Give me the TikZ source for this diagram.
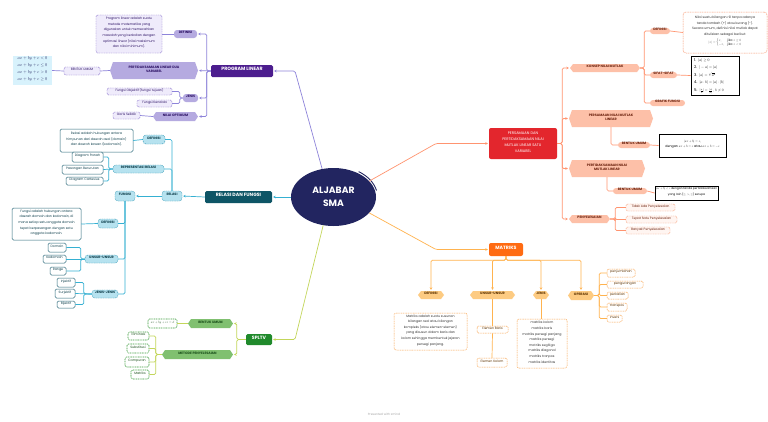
\documentclass[tikz,border=0pt]{standalone}
\usepackage{amsmath}
\usepackage{graphicx}
\usepackage[no-math]{fontspec}
\setmainfont{Poppins}
\usetikzlibrary{arrows.meta,fit,shapes.geometric}
\definecolor{navy}{HTML}{222560}
\definecolor{plDark}{HTML}{4C1D8E}
\definecolor{plLine}{HTML}{8E84DA}
\definecolor{plMid}{HTML}{B5AAE0}
\definecolor{plLight}{HTML}{EFEBFB}
\definecolor{plBorder}{HTML}{7D63C6}
\definecolor{plText}{HTML}{2E1466}
\definecolor{rfDark}{HTML}{0E5566}
\definecolor{rfLine}{HTML}{35B0D2}
\definecolor{rfMid}{HTML}{B6E2EF}
\definecolor{rfBorder}{HTML}{2C95B3}
\definecolor{rfBox}{HTML}{2D6B7C}
\definecolor{rfText}{HTML}{0E3F4C}
\definecolor{spDark}{HTML}{208A2C}
\definecolor{spLine}{HTML}{C3D65A}
\definecolor{spMid}{HTML}{80C070}
\definecolor{spBorder}{HTML}{3E9C3E}
\definecolor{spText}{HTML}{1A4F1A}
\definecolor{nmRed}{HTML}{E3262D}
\definecolor{nmLine}{HTML}{FF9470}
\definecolor{nmMid}{HTML}{FDC0A8}
\definecolor{nmBorder}{HTML}{F7976F}
\definecolor{nmLight}{HTML}{FFF5F1}
\definecolor{nmText}{HTML}{6E2410}
\definecolor{mxDark}{HTML}{FF6B12}
\definecolor{mxLine}{HTML}{FFB34F}
\definecolor{mxMid}{HTML}{FDCB82}
\definecolor{mxBorder}{HTML}{F9A24C}
\definecolor{mxText}{HTML}{5E3300}
\definecolor{eqFill}{HTML}{D8F2FC}
\newcommand\fT{\fontsize{3.2}{5.6}\selectfont}
\newcommand\fTs{\fontsize{2.9}{5.4}\selectfont}
\newcommand\fL{\fontsize{3.3}{4.4}\selectfont\bfseries}
\newcommand\fH{\fontsize{3.7}{6.2}\selectfont}
\newcommand\fM{\fontsize{4.7}{6}\selectfont\bfseries}
\newcommand\fC{\fontsize{9.2}{13}\selectfont\bfseries}
\newcommand\fE{\fontsize{4.4}{7.2}\selectfont}
\newcommand\fS{\fontsize{3.9}{5}\selectfont}
\newcommand\mth[2]{\scalebox{#1}{\fontsize{10}{12}\selectfont$#2$}}
\newcommand\bx[7]{\node[#2, fit={(#3,#4)(#5,#6)}, inner sep=0pt] (#1) {#7};}
\newcommand\hexn[8]{\path[#2] (#4+3,#5) -- (#6-3,#5) -- (#6,#5/2+#7/2) -- (#6-3,#7) -- (#4+3,#7) -- (#4,#5/2+#7/2) -- cycle;
  \node[#3, fit={(#4,#5)(#6,#7)}, inner sep=0pt] (#1) {#8};}
\tikzset{
  arr/.style={-{Stealth[length=2.4pt,width=2.6pt]}, shorten >=1pt},
  dsh/.style={dash pattern=on 1pt off 0.7pt},
  plline/.style={draw=plLine, line width=0.7pt, rounded corners=1.5pt},
  plmain/.style={fill=plDark, rounded corners=1.5pt, text=white, font=\fM},
  pllab/.style={fill=plMid, rounded corners=3pt, text=plText, font=\fL},
  plhex/.style={fill=plMid},
  plhext/.style={text=plText, font=\fL, align=center},
  plsmall/.style={fill=plLight, draw=plBorder, dsh, line width=0.4pt, rounded corners=1.5pt, text=plText, font=\fT},
  rfline/.style={draw=rfLine, line width=0.7pt, rounded corners=1.5pt},
  rfmain/.style={fill=rfDark, rounded corners=1.5pt, text=white, font=\fM},
  rflab/.style={fill=rfMid, draw=rfBorder, dsh, line width=0.4pt, rounded corners=3pt, text=rfText, font=\fL},
  rfsmall/.style={fill=white, draw=rfBox, line width=0.5pt, rounded corners=1.5pt, text=rfText, font=\fT},
  spline/.style={draw=spLine, line width=0.7pt, rounded corners=1.5pt},
  spmain/.style={fill=spDark, rounded corners=1.5pt, text=white, font=\fM},
  sphex/.style={fill=spMid},
  sphext/.style={text=spText, font=\fL, align=center},
  spsmall/.style={fill=white, draw=spBorder, dsh, line width=0.6pt, rounded corners=1.5pt, text=spText, font=\fT},
  nmline/.style={draw=nmLine, line width=0.7pt, rounded corners=1.5pt},
  nmmain/.style={fill=nmRed, rounded corners=2pt, text=white, font=\fH},
  nmhex/.style={fill=nmMid},
  nmhext/.style={text=nmText, font=\fL, align=center},
  nmlab/.style={fill=nmMid, rounded corners=3pt, text=nmText, font=\fL},
  nmsmall/.style={fill=nmLight, draw=nmBorder, dsh, line width=0.4pt, rounded corners=1.5pt, text=nmText, font=\fT},
  nmbox/.style={fill=white, draw=nmBorder, dsh, line width=0.5pt, rounded corners=3pt, text=black!80, font=\fT},
  blkbox/.style={fill=white, draw=black, line width=0.8pt, text=black, font=\fT},
  sifline/.style={anchor=west, inner sep=0pt, font=\fS, text=black},
  mxline/.style={draw=mxLine, line width=0.7pt, rounded corners=1.5pt},
  mxmain/.style={fill=mxDark, rounded corners=2pt, text=white, font=\fM},
  mxhex/.style={fill=mxMid},
  mxhext/.style={text=mxText, font=\fL, align=center},
  mxbox/.style={fill=white, draw=mxBorder, dsh, line width=0.5pt, rounded corners=2pt, text=black!80, font=\fT},
  mxsmall/.style={fill=white, draw=mxBorder, dsh, line width=0.5pt, rounded corners=1.5pt, text=mxText, font=\fT},
}
\begin{document}
\begin{tikzpicture}[x=1pt,y=-1pt]
\fill[white] (0,0) rectangle (768,421);
\useasboundingbox (0,0) rectangle (768,421);

% ---------- centre ----------
\node[ellipse, fill=navy, minimum width=85pt, minimum height=58pt, inner sep=0pt, text=white, font=\fC, align=center] (C) at (333.5,197) {ALJABAR\\SMA};
\draw[navy, line width=0.9pt] (358.7,171.6) arc[start angle=-55, end angle=-12, x radius=44, y radius=31];

% ---------- PROGRAM LINEAR ----------
\bx{PL}{plmain}{211}{65}{273}{77}{PROGRAM LINEAR}
\bx{plDefBox}{plsmall, align=right}{96}{15}{162}{53}{Program linear adalah suatu\\metode matematika yang\\digunakan untuk memecahkan\\masalah yang berkaitan dengan\\optimasi linear (nilai maksimum\\dan nilai minimum).}
\bx{plDef}{pllab}{174}{30}{197}{38}{DEFINISI}
\hexn{plPtd}{plhex}{plhext}{110}{62}{198}{79}{PERTIDAKSAMAAN LINEAR DUA\\VARIABEL}
\bx{plBU}{plsmall}{64}{67}{100}{75}{BENTUK UMUM}
\bx{plEq}{fill=eqFill, text=navy, font=\fE, align=left}{13}{56}{52}{85}{\mth{0.44}{ax+by+c<0}\\\mth{0.44}{ax+by+c\le0}\\\mth{0.44}{ax+by+c>0}\\\mth{0.44}{ax+by+c\ge0}}
\bx{plJenis}{pllab}{183}{94}{198}{102}{JENIS}
\bx{plFO}{plsmall}{107}{88}{172}{95}{Fungsi Objektif (fungsi tujuan)}
\bx{plFK}{plsmall}{137}{100}{172}{107}{Fungsi Kendala}
\hexn{plNO}{plhex}{plhext}{153}{112}{198}{121}{NILAI OPTIMUM}
\bx{plGS}{plsmall}{113}{112}{140}{119}{Garis Selidik}

\draw[plline, arr] (C.112) -- (295,71) -- (PL.east);
\draw[plline, arr] (PL.west) -- ++(-4,0) |- (plDef.east);
\draw[plline, arr] (PL.west) -- (plPtd.east);
\draw[plline, arr] (PL.west) -- ++(-4,0) |- (plJenis.east);
\draw[plline, arr] (PL.west) -- ++(-4,0) |- (plNO.east);
\draw[plline] (plDef.west) -- (plDefBox.east);
\draw[plline] (plPtd.west) -- (plBU.east);
\draw[plline] (plBU.west) -- (plEq.east);
\draw[plline] (plJenis.west) -- ++(-3,0) |- (plFO.east);
\draw[plline] (plJenis.west) -- ++(-3,0) |- (plFK.east);
\draw[plline] (plNO.west) -- (plGS.east);

% ---------- RELASI DAN FUNGSI ----------
\bx{RF}{rfmain}{205}{191}{272}{203}{RELASI DAN FUNGSI}
\bx{RELASI}{rflab}{162}{191}{182}{201}{RELASI}
\bx{FUNGSI}{rflab}{115}{191}{135}{201}{FUNGSI}
\bx{rDef}{rflab}{143}{135}{165}{144}{DEFINISI}
\bx{rDefBox}{rfsmall, align=left}{60}{129}{133}{152}{Relasi adalah hubungan antara\\himpunan dari daerah asal (domain)\\dan daerah kawan (kodomain).}
\bx{rRep}{rflab}{113}{165}{164}{173}{REPRESENTASI RELASI}
\bx{rDP}{rfsmall}{72}{152}{103}{162}{Diagram Panah}
\bx{rPB}{rfsmall}{62}{165}{103}{174}{Pasangan Berurutan}
\bx{rDC}{rfsmall}{66}{177}{103}{185}{Diagram Cartesius}
\bx{fDef}{rflab}{98}{219}{118}{228}{DEFINISI}
\bx{fDefBox}{rfsmall, align=left}{12}{208}{81}{240}{Fungsi adalah hubungan antara\\daerah domain dan kodomain, di\\mana setiap satu anggota domain\\tepat berpasangan dengan satu\\anggota kodomain.}
\bx{fUU}{rflab}{85}{255}{118}{263}{UNSUR-UNSUR}
\bx{fDom}{rfsmall}{48}{243}{66}{252}{Domain}
\bx{fKod}{rfsmall}{43}{255}{66}{263}{Kodomain}
\bx{fRan}{rfsmall}{50}{267}{66}{275}{Range}
\bx{fJJ}{rflab}{92}{290}{118}{298}{JENIS-JENIS}
\bx{fInj}{rfsmall}{57}{278}{75}{287}{Injektif}
\bx{fSur}{rfsmall}{55}{289}{75}{298}{Surjektif}
\bx{fBij}{rfsmall}{57}{301}{75}{308}{Bijektif}

\draw[rfline, arr] (C.west) -- (RF.east);
\draw[rfline, arr] (RF.west) -- (RELASI.east);
\draw[rfline, arr] (RELASI.west) -- (FUNGSI.east);
\draw[rfline] (RELASI.north) |- (rDef.east);
\draw[rfline] (RELASI.north) |- (rRep.east);
\draw[rfline] (rDef.west) -- (rDefBox.east);
\draw[rfline] (rRep.west) -- ++(-4,0) |- (rDP.east);
\draw[rfline] (rRep.west) -- (rPB.east);
\draw[rfline] (rRep.west) -- ++(-4,0) |- (rDC.east);
\draw[rfline] (FUNGSI.south) |- (fDef.east);
\draw[rfline] (FUNGSI.south) |- (fUU.east);
\draw[rfline] (FUNGSI.south) |- (fJJ.east);
\draw[rfline] (fDef.west) -- (fDefBox.east);
\draw[rfline] (fUU.west) -- ++(-4,0) |- (fDom.east);
\draw[rfline] (fUU.west) -- (fKod.east);
\draw[rfline] (fUU.west) -- ++(-4,0) |- (fRan.east);
\draw[rfline] (fJJ.west) -- ++(-8,0) |- (fInj.east);
\draw[rfline] (fJJ.west) -- (fSur.east);
\draw[rfline] (fJJ.west) -- ++(-8,0) |- (fBij.east);

% ---------- SPLTV ----------
\bx{SPLTV}{spmain}{246}{334}{272}{345}{SPLTV}
\hexn{sBU}{sphex}{sphext}{188}{319}{233}{328}{BENTUK UMUM}
\hexn{sMP}{sphex}{sphext}{162}{350}{233}{359}{METODE PENYELESAIAN}
\bx{sEq}{spsmall}{148}{319}{177}{328}{\mth{0.32}{ax+by+cz=d}}
\bx{sEl}{spsmall}{128}{332}{149}{340}{Eliminasi}
\bx{sSu}{spsmall}{127}{344}{149}{353}{Substitusi}
\bx{sCa}{spsmall}{125}{357}{149}{367}{Campuran}
\bx{sMa}{spsmall}{131}{370}{149}{379}{Matriks}

\draw[spline, arr] (C.250) -- (295,339.5) -- (SPLTV.east);
\draw[spline, arr] (SPLTV.west) -- ++(-9,0) |- (sBU.east);
\draw[spline, arr] (SPLTV.west) -- ++(-9,0) |- (sMP.east);
\draw[spline] (sBU.west) -- (sEq.east);
\draw[spline] (sMP.west) -- ++(-6,0) |- (sEl.east);
\draw[spline] (sMP.west) -- ++(-6,0) |- (sSu.east);
\draw[spline] (sMP.west) -- ++(-6,0) |- (sCa.east);
\draw[spline] (sMP.west) -- ++(-6,0) |- (sMa.east);

% ---------- NILAI MUTLAK ----------
\bx{PD}{nmmain, align=center}{489}{128}{557}{159}{PERSAMAAN DAN\\PERTIDAKSAMAAN NILAI\\MUTLAK LINEAR SATU\\VARIABEL}
\hexn{KNM}{nmhex}{nmhext}{570}{64}{640}{72}{KONSEP NILAI MUTLAK}
\bx{kDef}{nmlab}{650}{28}{670}{34}{DEFINISI}
\bx{kSif}{nmlab}{650}{72}{677}{78}{SIFAT-SIFAT}
\bx{kGra}{nmlab}{650}{100}{685}{106}{GRAFIK FUNGSI}
\bx{kDefBox}{nmbox, align=left}{683}{12}{767}{53}{Nilai suatu bilangan riil tanpa adanya\\tanda tambah (+) atau kurang (-).\\Secara umum, definisi nilai mutlak dapat\\dituliskan sebagai berikut:\\[2.5pt]\mth{0.32}{|x|=\left\{\begin{array}{@{}ll@{}} x, & \mbox{jika } x\ge0\\ -x, & \mbox{jika } x<0\end{array}\right.}}
\bx{kSifBox}{blkbox}{691}{56}{739}{95}{}
\node[sifline] (s1) at (694,60.3) {1.\ \ \mth{0.38}{|a|\ge0}};
\node[sifline] (s2) at (694,67.6) {2.\ \ \mth{0.38}{|-a|=|a|}};
\node[sifline] (s3) at (694,74.9) {3.\ \ \mth{0.38}{|a|=\sqrt{a^2}}};
\node[sifline] (s4) at (694,82.2) {4.\ \ \mth{0.38}{|a\cdot b|=|a|\cdot|b|}};
\node[sifline] (s5) at (694,90.9) {5.\ \ \mth{0.36}{|\tfrac{a}{b}|=\tfrac{|a|}{|b|},\ b\ne0}};
\hexn{PNM}{nmhex}{nmhext, align=left}{569}{110}{653}{127}{PERSAMAAN NILAI MUTLAK\\LINEAR}
\bx{pBU}{nmlab}{618}{142}{650}{148}{BENTUK UMUM}
\bx{pBox}{blkbox, align=center}{659}{134}{726}{157}{\mth{0.32}{|ax+b|=c,}\\dengan \mth{0.32}{ax+b=c} atau \mth{0.32}{ax+b=-c}}
\hexn{PTNM}{nmhex}{nmhext, align=left}{569}{160}{645}{177}{PERTIDAKSAMAAN NILAI\\MUTLAK LINEAR}
\bx{tBU}{nmlab}{613}{188}{647}{194}{BENTUK UMUM}
\bx{tBox}{blkbox, align=center, font=\fTs}{655}{186}{718}{200}{\mth{0.29}{|ax+b|<c} dengan tanda pertidaksamaan\\yang lain (\mth{0.29}{\le, >, \ge}) serupa}
\hexn{PNY}{nmhex}{nmhext}{569}{215}{610}{223}{PENYELESAIAN}
\bx{nTA}{nmsmall}{626}{204}{675}{211}{Tidak Ada Penyelesaian}
\bx{nTS}{nmsmall}{626}{216}{677}{223}{Tepat Satu Penyelesaian}
\bx{nBP}{nmsmall}{626}{227}{670}{234}{Banyak Penyelesaian}

\draw[nmline, arr] (C.24) -- (436,143.5) -- (PD.west);
\draw[nmline, arr] (PD.east) -- ++(5,0) |- (KNM.west);
\draw[nmline, arr] (PD.east) -- ++(5,0) |- (PNM.west);
\draw[nmline, arr] (PD.east) -- ++(5,0) |- (PTNM.west);
\draw[nmline, arr] (PD.east) -- ++(5,0) |- (PNY.west);
\draw[nmline] (KNM.east) -- ++(4,0) |- (kDef.west);
\draw[nmline] (KNM.east) -- ++(4,0) |- (kSif.west);
\draw[nmline] (KNM.east) -- ++(4,0) |- (kGra.west);
\draw[nmline] (kDef.east) -- (kDefBox.west);
\draw[nmline] (kSif.east) -- (kSifBox.west);
\draw[nmline] (PNM.south) |- (pBU.west);
\draw[nmline] (pBU.east) -- (pBox.west);
\draw[nmline] (PTNM.south) |- (tBU.west);
\draw[nmline] (tBU.east) -- (tBox.west);
\draw[nmline] (PNY.east) -- ++(5,0) |- (nTA.west);
\draw[nmline] (PNY.east) -- ++(5,0) |- (nTS.west);
\draw[nmline] (PNY.east) -- ++(5,0) |- (nBP.west);

% ---------- MATRIKS ----------
\bx{MX}{mxmain}{489}{243}{523}{256}{MATRIKS}
\hexn{mDef}{mxhex}{mxhext}{418}{291}{444}{299}{DEFINISI}
\hexn{mUU}{mxhex}{mxhext}{470}{291}{515}{299}{UNSUR-UNSUR}
\hexn{mJen}{mxhex}{mxhext}{533}{291}{549}{299}{JENIS}
\hexn{mOp}{mxhex}{mxhext}{568}{291}{594}{300}{OPERASI}
\bx{mDefBox}{mxbox, align=left}{394}{313}{467}{350}{Matriks adalah suatu susunan\\bilangan real atau bilangan\\kompleks (atau elemen-elemen)\\yang disusun dalam baris dan\\kolom sehingga membentuk jajaran\\persegi panjang.}
\bx{mEB}{mxsmall}{477}{326}{508}{333}{Elemen Baris}
\bx{mEK}{mxsmall}{477}{358}{507}{367}{Elemen Kolom}
\bx{mJenBox}{mxbox, align=center}{517}{319}{567}{368}{matriks kolom\\matriks baris\\matriks persegi panjang\\matriks persegi\\matriks segitiga\\matriks diagonal\\matriks tranpos\\matriks identitas}
\bx{oJum}{mxsmall}{607}{269}{635}{277}{penjumlahan}
\bx{oKur}{mxsmall}{607}{281}{643}{288}{pengurangan}
\bx{oKal}{mxsmall}{607}{292}{628}{299}{perkalian}
\bx{oTra}{mxsmall}{607}{303}{627}{311}{transpos}
\bx{oInv}{mxsmall}{607}{315}{622}{322}{invers}

\draw[mxline, arr] (C.336) -- (436,249.5) -- (MX.west);
\draw[mxline, arr] (MX.south) -- ++(0,4) -| (mDef.north);
\draw[mxline, arr] (MX.south) -- ++(0,4) -| (mUU.north);
\draw[mxline, arr] (MX.south) -- ++(0,4) -| (mJen.north);
\draw[mxline, arr] (MX.south) -- ++(0,4) -| (mOp.north);
\draw[mxline] (mUU.south) -- (mEB.north);
\draw[mxline] (mEB.south) -- (mEK.north);
\draw[mxline] (mJen.south) -- (mJen.south |- mJenBox.north);
\draw[mxline] (mOp.east) -- ++(5,0) |- (oJum.west);
\draw[mxline] (mOp.east) -- ++(5,0) |- (oKur.west);
\draw[mxline] (mOp.east) -- ++(5,0) |- (oKal.west);
\draw[mxline] (mOp.east) -- ++(5,0) |- (oTra.west);
\draw[mxline] (mOp.east) -- ++(5,0) |- (oInv.west);

\node[text=black!35, font=\fontsize{3}{4}\selectfont] (wm) at (384,414) {Presented with xmind};
\end{tikzpicture}
\end{document}
